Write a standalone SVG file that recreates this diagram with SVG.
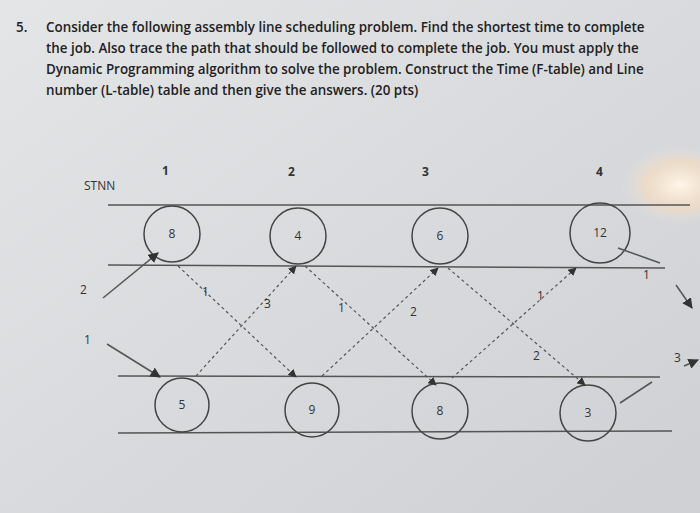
<svg xmlns="http://www.w3.org/2000/svg" width="700" height="513" viewBox="0 0 700 513">
<defs>
<linearGradient id="bg" x1="0" y1="0" x2="1" y2="1"><stop offset="0" stop-color="#e4e5e7"/><stop offset="1" stop-color="#cfd0d3"/></linearGradient>
<radialGradient id="glow" cx="0.5" cy="0.5" r="0.5"><stop offset="0" stop-color="#fff6e8"/><stop offset="0.6" stop-color="#f3dcc0" stop-opacity="0.7"/><stop offset="1" stop-color="#e4e5e7" stop-opacity="0"/></radialGradient>
<marker id="ar" viewBox="0 0 10 10" refX="9" refY="5" markerWidth="7" markerHeight="7" orient="auto"><path d="M0,0 L10,5 L0,10 z" fill="#333"/></marker>
<style>
.t{font-family:"Open Sans","Liberation Sans",sans-serif;font-size:13.4px;fill:#222;font-weight:600}
.l{font-family:"Open Sans","Liberation Sans",sans-serif;font-size:12px;fill:#333}
.h{font-weight:700}
.ln{stroke:#555;stroke-width:1.5;fill:none}
.c{fill:none;stroke:#444;stroke-width:1.5}
.d{stroke:#555;stroke-width:1.2;stroke-dasharray:3,3;fill:none}
</style>
</defs>
<rect width="700" height="513" fill="url(#bg)"/>
<ellipse cx="680" cy="185" rx="60" ry="40" fill="url(#glow)"/>
<text class="t" x="16" y="32">5.</text>
<text class="t" x="46" y="32">Consider the following assembly line scheduling problem. Find the shortest time to complete</text>
<text class="t" x="46" y="53">the job. Also trace the path that should be followed to complete the job. You must apply the</text>
<text class="t" x="46" y="74">Dynamic Programming algorithm to solve the problem. Construct the Time (F-table) and Line</text>
<text class="t" x="46" y="95">number (L-table) table and then give the answers. (20 pts)</text>
<g id="headers">
<text class="l" x="84" y="190">STNN</text>
<text class="l h" x="162" y="175">1</text>
<text class="l h" x="288" y="176">2</text>
<text class="l h" x="422" y="176">3</text>
<text class="l h" x="596" y="176">4</text>
</g>
<g id="lines">
<line class="ln" x1="108" y1="205" x2="690" y2="205"/>
<line class="ln" x1="108" y1="265" x2="665" y2="268"/>
<line class="ln" x1="118" y1="376" x2="660" y2="377"/>
<line class="ln" x1="118" y1="433" x2="672" y2="431"/>
</g>
<g id="n1"><circle class="c" cx="172" cy="234" r="28"/><text class="l" x="172" y="238" text-anchor="middle" font-size="10">8</text></g>
<g id="n2"><circle class="c" cx="298" cy="236" r="28"/><text class="l" x="298" y="240" text-anchor="middle" font-size="10">4</text></g>
<g id="n3"><circle class="c" cx="440" cy="236" r="28"/><text class="l" x="440" y="240" text-anchor="middle" font-size="10">6</text></g>
<g id="n4"><circle class="c" cx="600" cy="233" r="30"/><text class="l" x="600" y="237" text-anchor="middle" font-size="10">12</text></g>
<g id="m1"><circle class="c" cx="182" cy="405" r="27"/><text class="l" x="182" y="409" text-anchor="middle" font-size="9">5</text></g>
<g id="m2"><circle class="c" cx="312" cy="410" r="27"/><text class="l" x="312" y="414" text-anchor="middle" font-size="9">9</text></g>
<g id="m3"><circle class="c" cx="440" cy="411" r="28"/><text class="l" x="440" y="415" text-anchor="middle" font-size="9">8</text></g>
<g id="m4"><circle class="c" cx="588" cy="413" r="28"/><text class="l" x="588" y="417" text-anchor="middle" font-size="9">3</text></g>
<g id="connectors">
<line class="ln" x1="103" y1="298" x2="158" y2="253" marker-end="url(#ar)"/>
<line class="ln" x1="107" y1="344" x2="160" y2="377" marker-end="url(#ar)"/>
<line class="ln" x1="618" y1="248" x2="660" y2="263"/>
<line class="ln" x1="676" y1="285" x2="692" y2="308" marker-end="url(#ar)"/>
<line class="ln" x1="620" y1="403" x2="652" y2="382"/>
<path d="M684,366 L698,360" class="ln" marker-end="url(#ar)"/>
<line class="d" x1="178" y1="266" x2="296" y2="377" marker-end="url(#ar)"/>
<line class="d" x1="196" y1="376" x2="296" y2="266" marker-end="url(#ar)"/>
<line class="d" x1="305" y1="266" x2="436" y2="385" marker-end="url(#ar)"/>
<line class="d" x1="322" y1="376" x2="438" y2="268" marker-end="url(#ar)"/>
<line class="d" x1="452" y1="378" x2="576" y2="268" marker-end="url(#ar)"/>
<line class="d" x1="448" y1="268" x2="585" y2="385" marker-end="url(#ar)"/>
<text class="l" x="80" y="294">2</text>
<text class="l" x="84" y="344">1</text>
<text class="l" x="202" y="296">1</text>
<text class="l" x="264" y="308">3</text>
<text class="l" x="338" y="312">1</text>
<text class="l" x="410" y="316">2</text>
<text class="l" x="537" y="300">1</text>
<text class="l" x="533" y="360">2</text>
<text class="l" x="643" y="279">1</text>
<text class="l" x="674" y="362">3</text>
</g>
</svg>
